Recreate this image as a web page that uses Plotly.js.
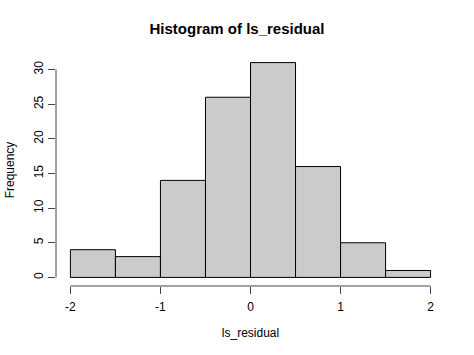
<!DOCTYPE html>
<html><head><meta charset="utf-8">
<script src="https://cdn.plot.ly/plotly-3.0.1.min.js"></script>
<style>html,body{margin:0;padding:0;background:#fff}#plot{width:474px;height:355px}</style>
</head><body><div id="plot"></div>
<script>
const binEdges = [-2, -1.5, -1, -0.5, 0, 0.5, 1, 1.5, 2];
const counts = [4, 3, 14, 26, 31, 16, 5, 1];
const xTicks = [-2, -1, 0, 1, 2];
const yTicks = [0, 5, 10, 15, 20, 25, 30];

const centers = counts.map((c, i) => (binEdges[i] + binEdges[i + 1]) / 2);
const widths = counts.map((c, i) => binEdges[i + 1] - binEdges[i]);

const font = {family: 'Liberation Sans, Arial, Helvetica, sans-serif', color: '#000'};
const trace = {
  type: 'bar', x: centers, y: counts, width: widths,
  marker: {color: '#CBCBCB', line: {color: '#000', width: 1}},
  hoverinfo: 'x+y'
};
const layout = {
  width: 474, height: 355,
  margin: {l: 56, r: 29, t: 54, b: 69},
  paper_bgcolor: '#fff', plot_bgcolor: '#fff',
  showlegend: false,
  font: Object.assign({size: 12}, font),
  title: {text: '<b>Histogram of ls_residual</b>', font: Object.assign({}, font, {size: 15}), x: 0.5, xanchor: 'center', y: 0.92, yanchor: 'middle'},
  xaxis: {
    range: [-2.16, 2.16], tickvals: xTicks, ticktext: xTicks.map(String),
    showgrid: false, zeroline: false, showline: false,
    ticks: 'outside', ticklen: 7, tickcolor: '#444', tickwidth: 1,
    ticklabelstandoff: 3,
    tickfont: Object.assign({size: 12}, font),
    title: {text: 'ls_residual', font: Object.assign({size: 12}, font), standoff: 15}
  },
  yaxis: {
    range: [-1.24, 32.24], tickvals: yTicks, ticktext: yTicks.map(String),
    showgrid: false, zeroline: false, showline: false,
    ticks: 'outside', ticklen: 7, tickcolor: '#444', tickwidth: 1, tickangle: -90,
    tickfont: Object.assign({size: 12}, font),
    title: {text: 'Frequency', font: Object.assign({size: 12}, font), standoff: 15}
  },
  shapes: [
    {type: 'line', xref: 'x', yref: 'paper', x0: xTicks[0], x1: xTicks[xTicks.length - 1], y0: 0, y1: 0, line: {color: '#444', width: 1}},
    {type: 'line', xref: 'paper', yref: 'y', x0: 0, x1: 0, y0: yTicks[0], y1: yTicks[yTicks.length - 1], line: {color: '#444', width: 1}}
  ]
};
Plotly.newPlot('plot', [trace], layout, {displayModeBar: false, staticPlot: true});
</script></body></html>
